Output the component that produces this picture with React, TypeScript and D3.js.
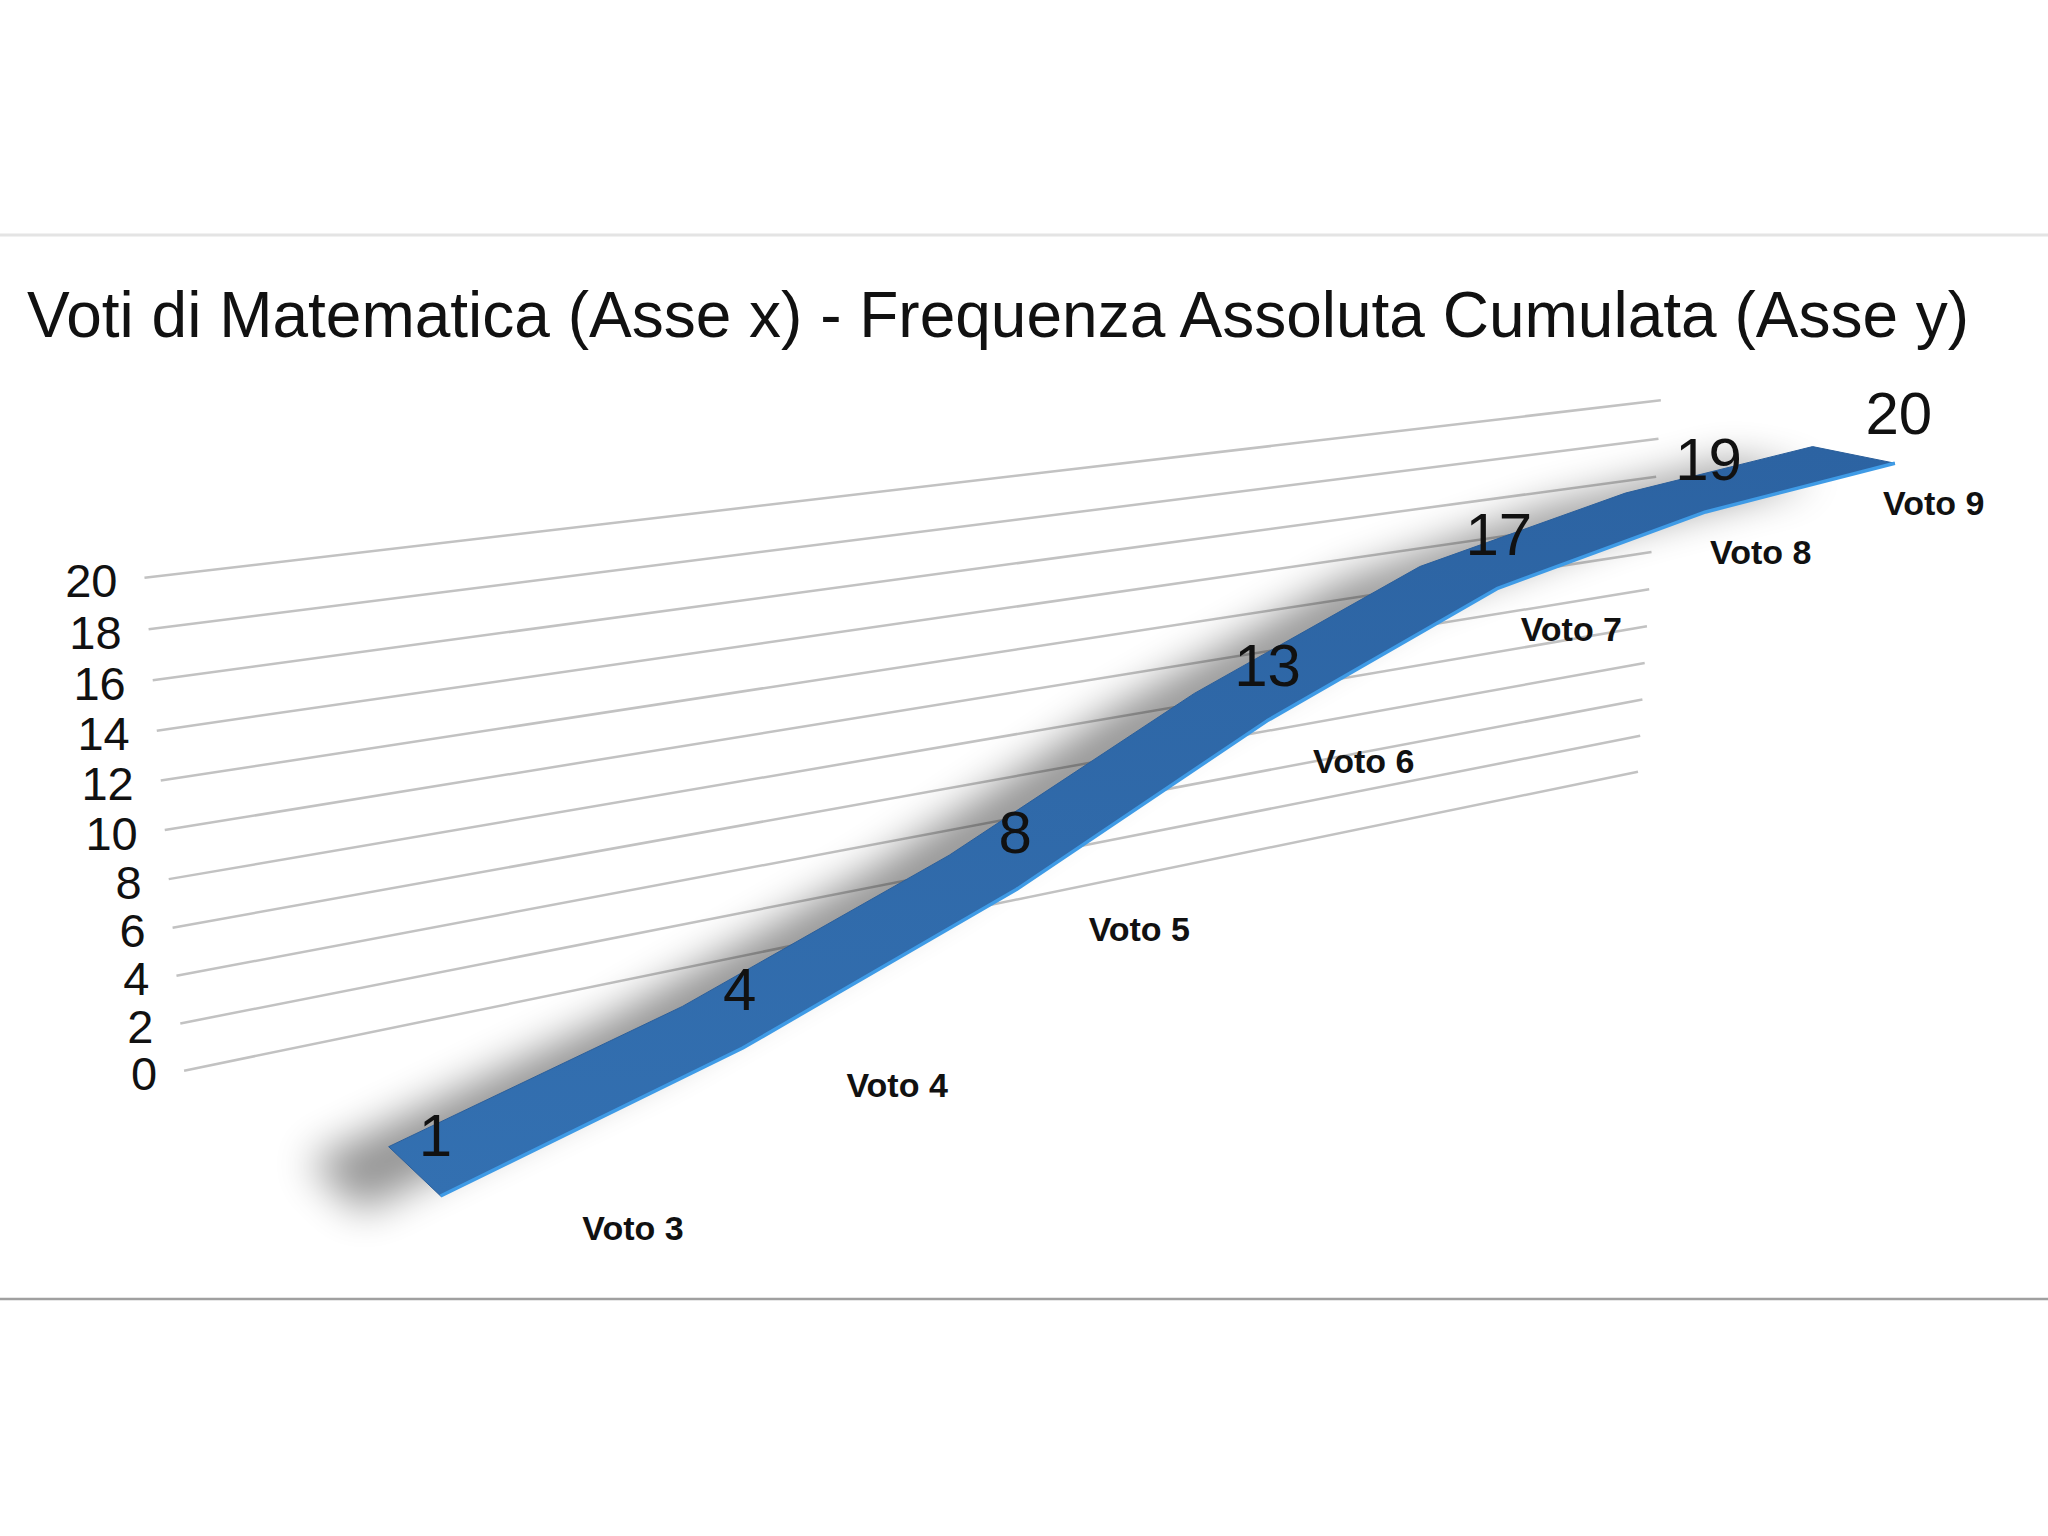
import * as d3 from 'd3';

const categories = ['Voto 3', 'Voto 4', 'Voto 5', 'Voto 6', 'Voto 7', 'Voto 8', 'Voto 9'];
const cumulativeFreq = [1, 4, 8, 13, 17, 19, 20];
const yTickValues = [0, 2, 4, 6, 8, 10, 12, 14, 16, 18, 20];
const title = 'Voti di Matematica (Asse x) - Frequenza Assoluta Cumulata (Asse y)';

// 3D view: world units = one category step, camera angles in degrees
const camera = { yaw: 32.756, pitch: 15.762, roll: -0.206, pos: [-2.8481, 3.7565, 9.1988], focal: 2951.26, center: [1034.62, 731.36] };
const valueUnit = 0.0838;          // world height of one frequency unit
const wallX = [-0.2837, 6.285];    // back wall extent along the category axis
const ribbonZ = [1.1374, 1.5576];  // ribbon back / front depth
const valueLabel = { dx: -0.0078, dv: 2.33, z: 1.5629 };
const catLabel = { x0: 0.7433, step: 0.975, scale: 1.0893, dv: -4.974, z: 1.262 };

const font = "'Liberation Sans', Arial, Helvetica, sans-serif";
const rad = Math.PI / 180;

const matMul = (A: number[][], B: number[][]) =>
    A.map(r => B[0].map((_, j) => r.reduce((s, v, k) => s + v * B[k][j], 0)));

function makeProjection() {
    const yaw = camera.yaw * rad, pitch = camera.pitch * rad, roll = camera.roll * rad;
    const { pos, focal, center } = camera;
    const Ry = [[Math.cos(yaw), 0, Math.sin(yaw)], [0, 1, 0], [-Math.sin(yaw), 0, Math.cos(yaw)]];
    const Rx = [[1, 0, 0], [0, Math.cos(pitch), -Math.sin(pitch)], [0, Math.sin(pitch), Math.cos(pitch)]];
    const Rz = [[Math.cos(roll), -Math.sin(roll), 0], [Math.sin(roll), Math.cos(roll), 0], [0, 0, 1]];
    const R = matMul(Rz, matMul(Rx, Ry));
    return (x: number, y: number, z: number): [number, number] => {
        const d = [x - pos[0], y - pos[1], z - pos[2]];
        const q = R.map(row => row[0] * d[0] + row[1] * d[1] + row[2] * d[2]);
        const depth = -q[2];
        return [center[0] + focal * q[0] / depth, center[1] - focal * q[1] / depth];
    };
}

export default function App() {
    const proj = makeProjection();

    // category axis, label positions and value axis in world units
    const x = d3.scalePoint<string>().domain(categories).range([0, categories.length - 1]);
    const xLabel = d3.scalePoint<string>().domain(categories)
        .range([catLabel.x0, catLabel.x0 + catLabel.step * (categories.length - 1)]);
    const y = d3.scaleLinear().domain([0, 20]).range([0, 20 * valueUnit]);

    const back = categories.map((c, i) => proj(x(c)!, y(cumulativeFreq[i]), ribbonZ[0]));
    const front = categories.map((c, i) => proj(x(c)!, y(cumulativeFreq[i]), ribbonZ[1]));
    const ribbon = [...back, ...front.slice().reverse()];
    const poly = d3.line().curve(d3.curveLinearClosed);
    const line = d3.line();

    return (
        <svg width={2048} height={1536} style={{ position: 'absolute', left: 0, top: 0, background: '#fff' }}>
            <defs>
                <filter id="shadow" x="-20%" y="-30%" width="140%" height="160%">
                    <feGaussianBlur stdDeviation={21} />
                    <feOffset dx={-80} dy={15} />
                </filter>
                <filter id="edge" x="-5%" y="-200%" width="110%" height="500%">
                    <feGaussianBlur stdDeviation={3} />
                </filter>
                <linearGradient id="rib" x1="0" y1="0" x2="0" y2="1">
                    <stop offset="0" stopColor="#2c63a2" />
                    <stop offset="1" stopColor="#3370b1" />
                </linearGradient>
            </defs>
            <rect width={2048} height={1536} fill="#fff" />

            {/* slide frame */}
            <line x1={0} x2={2048} y1={235} y2={235} stroke="#e4e4e4" strokeWidth={3} />
            <line x1={0} x2={2048} y1={1303} y2={1303} stroke="#000" strokeOpacity={0.12} strokeWidth={6} filter="url(#edge)" />
            <line x1={0} x2={2048} y1={1299} y2={1299} stroke="#a0a0a0" strokeWidth={2.5} />

            <text x={27} y={337} fontFamily={font} fontSize={64} fill="#111">{title}</text>

            {/* back wall gridlines + value axis */}
            {yTickValues.map(v => {
                const a = proj(wallX[0], y(v), 0);
                const b = proj(wallX[1], y(v), 0);
                return (
                    <g key={v}>
                        <line x1={a[0]} y1={a[1]} x2={b[0]} y2={b[1]} stroke="#c2c2c2" strokeWidth={2.5} />
                        <text x={a[0] - 27} y={a[1] + 3} textAnchor="end" dominantBaseline="central"
                            fontFamily={font} fontSize={47} fill="#111">{v}</text>
                    </g>
                );
            })}

            <path d={poly(ribbon)!} fill="#000" opacity={0.42} filter="url(#shadow)" />

            {categories.map((c, i) => {
                const a = proj(xLabel(c)!, y(catLabel.scale * cumulativeFreq[i] + catLabel.dv), catLabel.z);
                return (
                    <text key={c} x={a[0]} y={a[1]} textAnchor="middle" dominantBaseline="central"
                        fontFamily={font} fontWeight="bold" fontSize={34} fill="#111">{c}</text>
                );
            })}

            {/* ribbon */}
            <path d={poly(ribbon)!} fill="url(#rib)" stroke="#2b5f9b" strokeWidth={1} strokeLinejoin="round" />
            <path d={line(front)!} fill="none" stroke="#3f9be6" strokeWidth={3.5} strokeLinejoin="round" />

            {categories.map((c, i) => {
                const a = proj(x(c)! + valueLabel.dx, y(cumulativeFreq[i] + valueLabel.dv), valueLabel.z);
                return (
                    <text key={c} x={a[0]} y={a[1]} textAnchor="middle" dominantBaseline="central"
                        fontFamily={font} fontSize={60} fill="#111">{cumulativeFreq[i]}</text>
                );
            })}
        </svg>
    );
}
